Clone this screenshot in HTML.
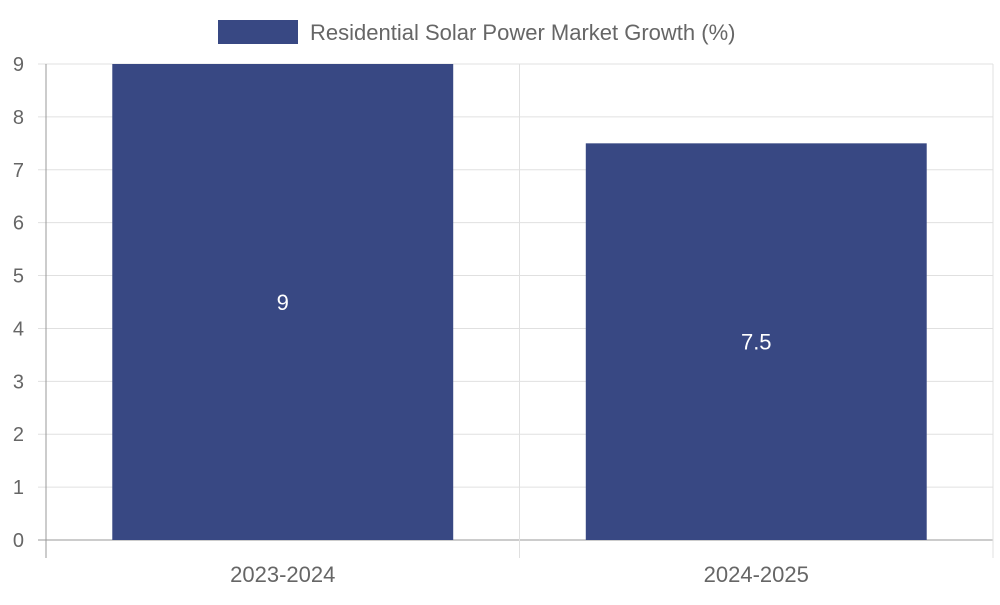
<!DOCTYPE html>
<html><head><meta charset="utf-8"><style>
html,body{margin:0;padding:0;background:#fff;}
svg text{font-family:"Liberation Sans",sans-serif;}
</style></head><body>
<svg id="chart" width="1000" height="600" xmlns="http://www.w3.org/2000/svg">
<g>
<rect x="218" y="20" width="80" height="24" fill="#384883"/>
<text x="310" y="40" font-size="22" fill="#666">Residential Solar Power Market Growth (%)</text>
</g>
<g id="grid"></g>
<g id="bars"></g>
<g id="axes"></g>
</svg>
<script>
const categories = ["2023-2024", "2024-2025"];
const values = [9, 7.5];
const yTicks = [0,1,2,3,4,5,6,7,8,9];
const NS="http://www.w3.org/2000/svg";
const L=46,R=993,T=64,B=540,yMax=9;
function y(v){return B-(v/yMax)*(B-T);}
const bw=(R-L)/categories.length;
function x(i){return L+bw*i;}
function mk(tag,attrs,parent){const e=document.createElementNS(NS,tag);for(const k in attrs)e.setAttribute(k,attrs[k]);parent.appendChild(e);return e;}
const grid=document.getElementById('grid'),bars=document.getElementById('bars'),axes=document.getElementById('axes');
yTicks.forEach(t=>{
  const ln=mk('line',{x1:L-8,x2:R,y1:y(t),y2:y(t),stroke:t===0?'#999':'#e0e0e0','stroke-width':1},grid);
  
  
  const tx=mk('text',{x:L-22,y:y(t)+7,'font-size':20,fill:'#666','text-anchor':'end'},axes);
  tx.textContent=t;
  
  
});
for(let i=0;i<=categories.length;i++){
  const ln=mk('line',{x1:x(i),x2:x(i),y1:T,y2:B+18,stroke:i===0?'#999':'#e0e0e0','stroke-width':1},grid);
  
  
}
categories.forEach((c,i)=>{
  const w=bw*0.72,bx=x(i)+(bw-w)/2;
  const r=mk('rect',{x:bx,y:y(values[i]),width:w,height:B-y(values[i]),fill:'#384883'},bars);
  
  
  const vt=mk('text',{x:bx+w/2,y:(y(values[i])+B)/2+8,'font-size':22,fill:'#fff','text-anchor':'middle'},bars);
  vt.textContent=values[i];
  
  
  const ct=mk('text',{x:x(i)+bw/2,y:582,'font-size':22,fill:'#666','text-anchor':'middle'},axes);
  ct.textContent=c;
  
  
});
</script>
</body></html>
